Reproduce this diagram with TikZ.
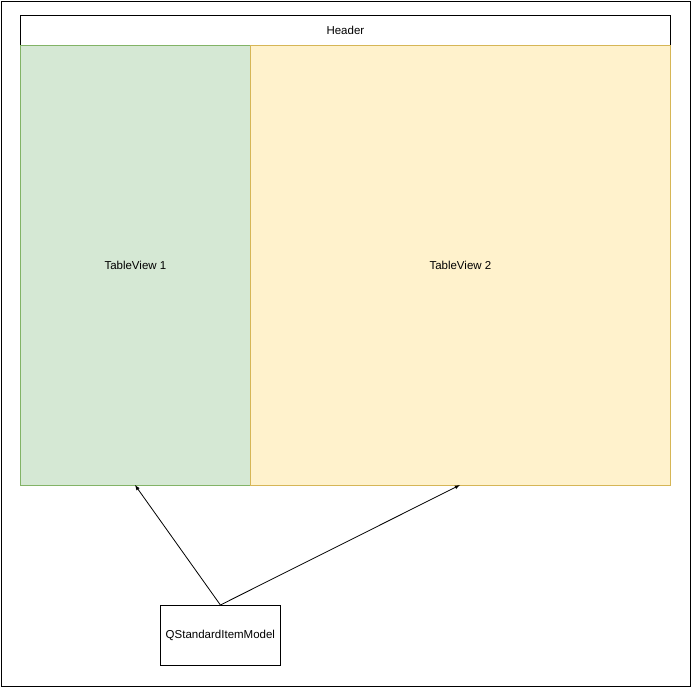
\documentclass[tikz,border=0pt]{standalone}
\usepackage{fontspec}
\setmainfont{Liberation Sans}
\definecolor{gfill}{HTML}{D5E8D4}
\definecolor{gline}{HTML}{82B366}
\definecolor{yfill}{HTML}{FFF2CC}
\definecolor{yline}{HTML}{D6B656}
\tikzset{
  panel/.style={draw,line width=0.8pt,font=\fontsize{11.5}{13}\selectfont,inner sep=0pt},
}
\begin{document}
\begin{tikzpicture}[x=1pt,y=-1pt]
\useasboundingbox (0,0) rectangle (691,687);
\node[panel,minimum width=689,minimum height=685,anchor=north west] (frame) at (0.6,0.6) {};
\node[panel,minimum width=650,minimum height=30,anchor=north west] (header) at (20,15) {Header};
\node[panel,draw=gline,fill=gfill,minimum width=230,minimum height=440,anchor=north west] (tv1) at (20,45) {TableView 1};
\node[panel,draw=yline,fill=yfill,minimum width=420,minimum height=440,anchor=north west] (tv2) at (250,45) {TableView 2};
\node[panel,minimum width=120,minimum height=60,anchor=north west] (model) at (160,605) {QStandardItemModel};
\coordinate (t1) at (135,485);
\coordinate (t2) at (460,485);
\draw[-latex,line width=0.8pt] (model.north) -- (t1);
\draw[-latex,line width=0.8pt] (model.north) -- (t2);
\end{tikzpicture}
\end{document}
